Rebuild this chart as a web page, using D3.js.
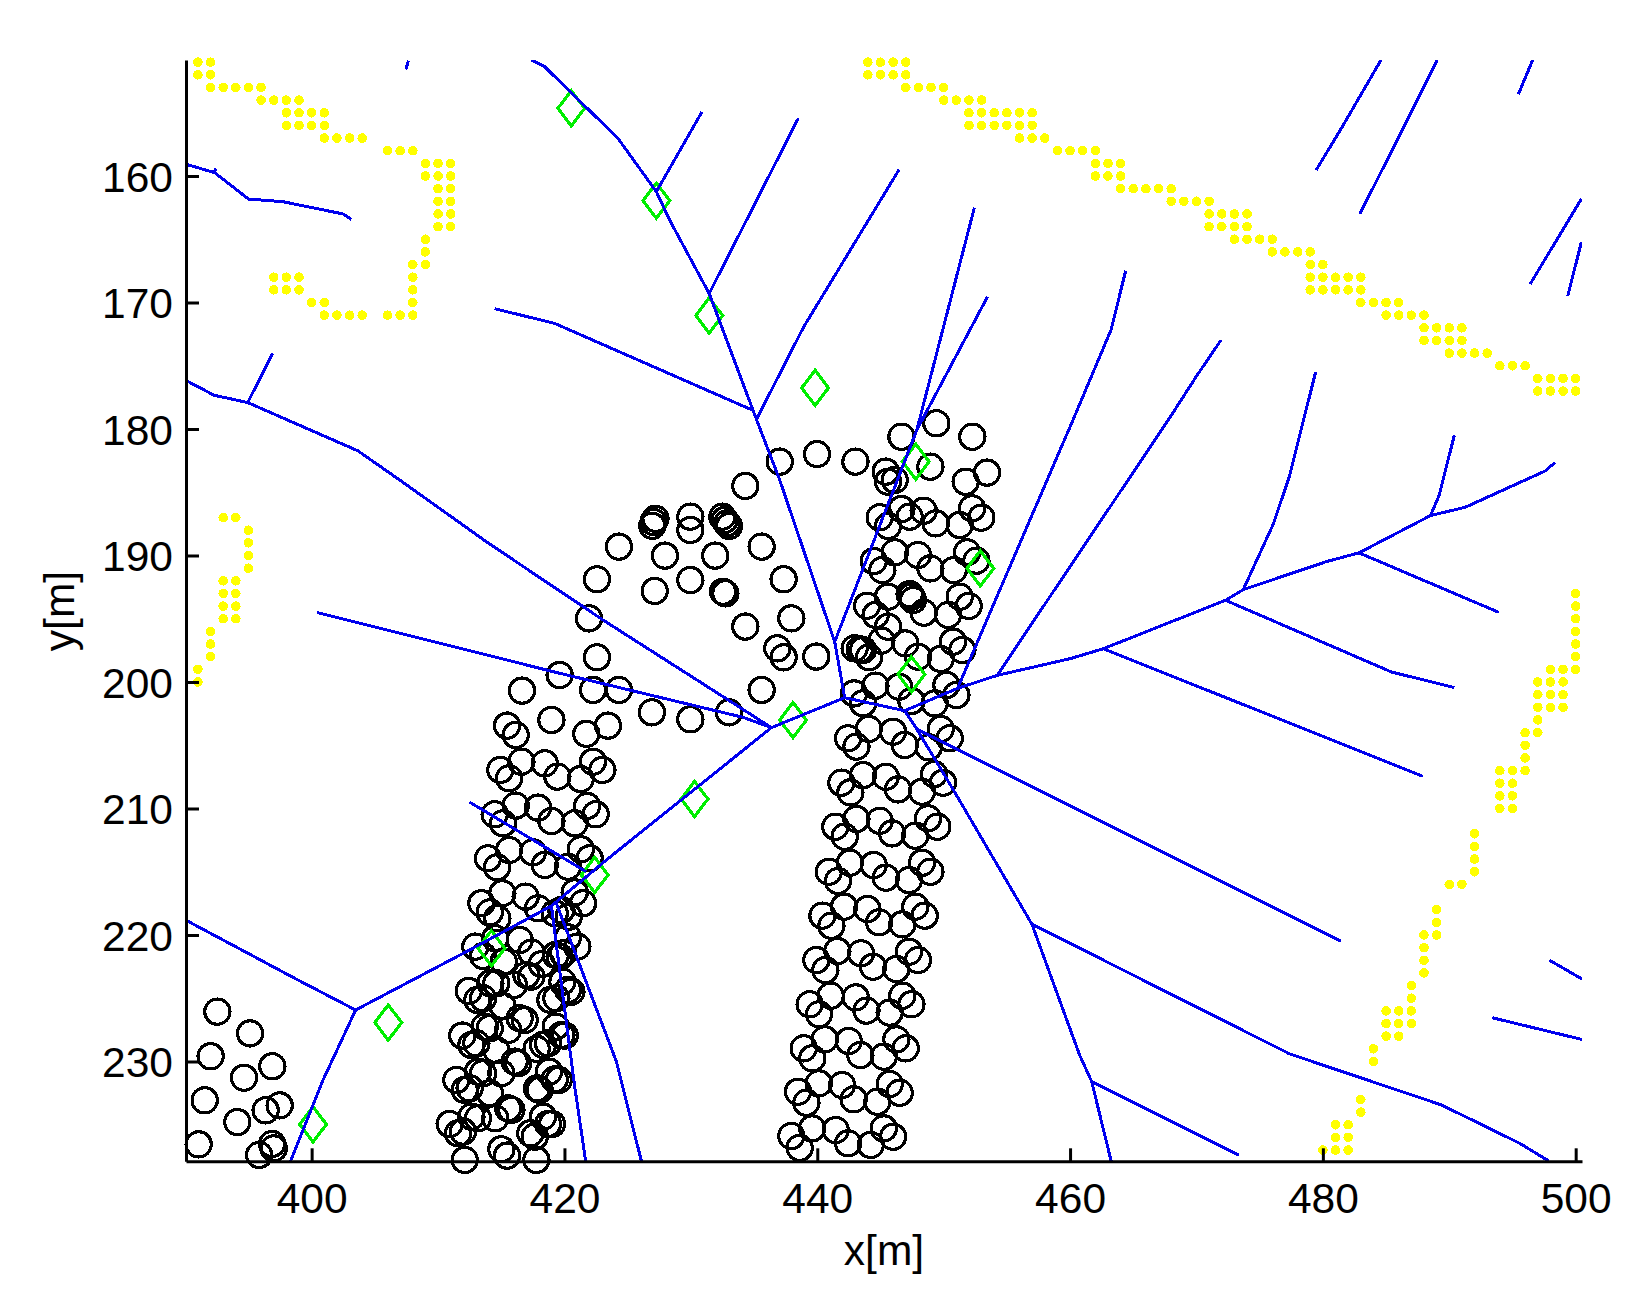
<!DOCTYPE html>
<html><head><meta charset="utf-8">
<script src="https://cdn.jsdelivr.net/npm/d3@7/dist/d3.min.js"></script>
<style>html,body{margin:0;padding:0;background:#fff}svg{display:block}</style>
</head><body><svg id="c" width="1644" height="1299"></svg>
<script>
const xTicks=[400,420,440,460,480,500];
const yTicks=[160,170,180,190,200,210,220,230];
// yellow cells: [y, x values]
const yellowRows=[
[151,[391,392,444,445,446,447]],[152,[391,392,444,445,446,447]],
[153,[392,393,394,395,396,447,448,449,450]],[154,[396,397,398,399,450,451,452,453]],
[155,[398,399,400,401,452,453,454,455,456,457]],[156,[398,399,400,401,452,453,454,455,456,457]],
[157,[401,402,403,404,456,457,458]],[158,[406,407,408,459,460,461,462]],
[159,[409,410,411,462,463,464]],[160,[409,410,411,462,463,464]],
[161,[410,411,464,465,466,467,468]],[162,[410,411,468,469,470,471]],
[163,[410,411,471,472,473,474]],[164,[410,411,471,472,473,474]],
[165,[409,473,474,475,476]],[166,[409,476,477,478,479]],
[167,[408,409,479,480]],[168,[397,398,399,408,479,480,481,482,483]],
[169,[397,398,399,408,479,480,481,482,483]],[170,[400,401,408,483,484,485,486]],
[171,[401,402,403,404,406,407,408,485,486,487,488]],[172,[488,489,490,491]],
[173,[488,489,490,491]],[174,[490,491,492,493]],[175,[494,495,496]],
[176,[497,498,499,500]],[177,[497,498,499,500]],
[187,[393,394]],[188,[395]],[189,[395]],[190,[395]],[191,[395]],
[192,[393,394]],[193,[393,394,500]],[194,[393,394,500]],[195,[393,394,500]],
[196,[392,500]],[197,[392,500]],[198,[392,500]],[199,[391,498,499,500]],
[200,[391,497,498,499]],[201,[497,498,499]],[202,[497,498,499]],[203,[497]],
[204,[496,497]],[205,[496]],[206,[496]],[207,[494,495,496]],[208,[494,495]],
[209,[494,495]],[210,[494,495]],[212,[492]],[213,[492]],[214,[492]],[215,[492]],
[216,[490,491]],[218,[489]],[219,[489]],[220,[488,489]],[221,[488]],[222,[488]],
[223,[488]],[224,[487]],[225,[487]],[226,[485,486,487]],[227,[485,486,487]],
[228,[485,486]],[229,[484]],[230,[484]],[233,[483]],[234,[483]],[235,[481,482]],
[236,[481,482]],[237,[480,481,482]]];

const circlesRight=[
[437.95,235.89],[438.61,236.82],[439.59,235.29],[441.46,235.42],[442.44,236.47],[444.23,236.60],[445.26,235.29],[446.00,235.95],
[438.48,232.39],[439.14,233.26],[440.12,231.73],[441.96,231.86],[442.88,232.99],[444.76,233.18],[445.73,231.78],[446.52,232.47],
[438.93,228.96],[439.61,229.75],[440.59,228.25],[442.49,228.38],[443.41,229.49],[445.26,229.62],[446.26,228.25],[447.00,228.96],
[439.40,225.48],[440.14,226.27],[441.06,224.80],[443.04,224.93],[443.89,225.98],[445.73,226.14],[446.73,224.80],[447.45,225.48],
[439.93,221.98],[440.64,222.77],[441.59,221.27],[443.46,221.45],[444.41,222.51],[446.26,222.69],[447.26,221.32],[447.97,221.98],
[440.41,218.47],[441.12,219.27],[442.12,217.76],[443.97,217.95],[444.89,219.00],[446.73,219.16],[447.76,217.76],[448.50,218.47],
[440.91,215.00],[441.64,215.73],[442.57,214.29],[444.47,214.47],[445.42,215.47],[447.26,215.66],[448.29,214.29],[448.95,215.00],
[441.43,211.44],[442.17,212.23],[443.10,210.83],[444.94,210.97],[445.92,211.97],[447.76,212.15],[448.76,210.78],[449.50,211.44],
[441.91,207.96],[442.62,208.73],[443.62,207.36],[445.42,207.49],[446.39,208.49],[448.29,208.67],[449.24,207.28],[449.95,207.96],
[442.44,204.45],[443.10,205.11],[444.07,203.71],[445.99,203.93],[446.92,204.98],[448.82,205.17],[449.77,203.71],[450.48,204.45],
[442.91,200.90],[443.62,201.69],[444.60,200.29],[446.47,200.37],[447.45,201.50],[449.29,201.69],[450.22,200.24],[451.01,201.03],
[442.96,197.34],[443.36,197.42],[443.62,197.47],[444.10,198.05],[445.07,196.73],[446.97,196.95],[447.97,198.00],[449.77,198.18],[450.74,196.81],[451.48,197.47],[445.60,195.63],
[443.94,193.97],[444.62,194.70],[445.60,193.26],[447.31,193.05],[447.45,193.26],[447.58,193.52],[448.42,194.52],[450.35,194.70],[451.27,193.26],[451.98,193.99],
[444.47,190.44],[445.15,191.15],[446.13,189.75],[447.97,189.96],[448.95,191.02],[450.80,191.15],[451.85,189.75],[452.59,190.41],
[444.94,186.98],[445.60,187.67],[446.66,186.33],[447.31,186.93],[448.42,186.46],[449.37,187.46],[451.27,187.59],[452.25,186.27],[452.98,187.01],
[445.42,183.37],[445.60,184.17],[446.13,184.03],[448.95,182.98],[451.74,184.17],[453.43,183.45],
[446.66,180.61],[449.42,179.55],[452.27,180.61]];
const circlesArch=[
[439.98,181.98],[437.03,182.58],[443.02,182.58],[434.31,184.50],
[427.20,187.10],[427.05,187.35],[426.95,187.65],[429.96,186.93],[429.96,187.98],[432.49,186.93],[432.67,187.19],[432.86,187.46],[433.02,187.67],
[424.31,189.30],[427.95,190.01],[431.93,190.01],[435.60,189.30],[422.57,191.88],[427.14,192.80],[429.96,191.94],[432.54,192.86],[432.73,192.99],[437.34,191.88],
[421.94,194.97],[434.31,195.62],[437.95,194.97],[436.84,197.34],[437.34,198.05],[439.92,197.99],[422.57,198.05],
[435.60,200.63],[422.26,200.63],[424.31,200.63],[419.62,199.45],[426.92,202.40],[429.96,202.95],[433.02,202.40],[421.73,204.10],[423.44,203.45]];
const circlesLeft=[
[416.64,200.68],[415.46,203.45],[416.14,204.19],[418.97,203.00],
[414.93,206.95],[415.62,207.61],[416.59,206.30],[418.44,206.43],[419.44,207.48],[421.29,207.67],[422.26,206.30],[423.00,206.95],
[414.48,210.46],[415.14,211.17],[416.14,209.77],[417.91,209.93],[418.97,210.99],[420.81,211.17],[421.79,209.80],[422.47,210.46],
[413.95,213.94],[414.67,214.65],[415.62,213.28],[417.51,213.46],[418.44,214.46],[420.28,214.60],[421.29,213.23],[421.99,213.94],
[413.43,217.49],[414.09,218.21],[414.69,218.68],[415.09,216.70],[416.93,216.97],[417.91,217.89],[419.76,218.02],[420.34,218.55],[420.81,216.63],[421.47,217.49],[419.23,218.28],
[412.95,220.92],[413.56,221.66],[414.53,220.26],[416.46,220.39],[417.38,221.39],[419.31,221.58],[419.62,221.71],[420.28,220.18],[421.02,220.92],[419.89,221.45],[415.20,222.10],[418.20,222.30],
[412.43,224.42],[413.11,225.13],[413.56,225.00],[414.14,223.82],[414.61,223.82],[416.01,223.95],[416.99,223.16],[417.38,223.29],[418.89,225.13],[419.36,225.00],[419.84,223.69],[420.55,224.48],[420.28,224.34],[415.10,225.60],
[411.92,227.95],[412.64,228.69],[413.03,228.56],[413.69,227.24],[414.09,227.37],[415.54,227.51],[416.46,226.58],[416.86,226.72],[418.31,228.69],[418.70,228.56],[419.31,227.24],[419.76,227.90],[420.02,227.95],[414.60,229.10],[417.80,229.00],
[411.45,231.46],[412.11,232.25],[412.50,232.12],[413.16,230.80],[413.56,230.93],[415.01,230.93],[416.06,230.01],[416.33,230.14],[417.83,232.12],[418.04,232.25],[418.78,230.80],[419.23,231.42],[419.55,231.46],[414.10,232.50],
[410.92,234.94],[411.58,235.68],[411.98,235.54],[412.64,234.36],[413.16,234.49],[414.53,234.49],[415.54,233.70],[415.80,233.83],[417.30,235.68],[417.65,235.94],[418.31,234.36],[418.70,234.94],[419.02,234.94],
[412.11,237.78],[415.01,236.94],[415.46,237.44],[417.78,237.78]];
const circlesCorner=[
[392.54,226.06],[395.13,227.78],[392.01,229.59],[396.89,230.38],[394.65,231.28],[391.54,233.07],[397.47,233.47],[396.36,233.86],[394.12,234.79],[391.06,236.55],[396.87,236.52],[397.00,236.87],[395.84,237.39]];
const diamonds=[
[420.54,154.65],[427.27,161.95],[431.45,171.03],[439.83,176.75],[447.79,182.58],[452.90,191.02],[447.45,199.40],[438.08,203.01],[430.29,209.25],[422.39,215.25],[414.22,221.05],[406.06,226.92],[400.11,234.97]];

const blueLines=[
// right trunk
[[442.17,201.24],[446.92,202.27],[451.10,200.50],[454.23,199.48],[460.06,198.14],[462.63,197.37],[472.30,193.54],[473.70,192.70],[480.29,190.48],[482.86,189.79],[488.52,186.84],[491.26,186.19],[497.60,183.31],[498.35,182.66]],
[[473.70,192.70],[476.07,187.53],[477.37,183.70],[478.47,179.29],[479.43,175.50]],
[[488.52,186.84],[489.20,185.23],[490.40,180.50]],
[[482.86,189.79],[493.93,194.50]],
[[472.30,193.54],[485.43,199.21],[490.40,200.44]],
[[462.63,197.37],[487.90,207.45]],
[[454.23,199.48],[467.77,179.29],[469.97,175.87],[471.95,172.96]],
[[451.10,200.50],[455.23,190.89],[460.23,179.29],[463.24,172.17],[464.40,167.49]],
// lower right
[[446.92,202.27],[447.89,203.75],[450.81,208.60],[456.98,219.14],[460.75,229.48],[461.71,231.59],[463.25,237.87]],
[[447.89,203.75],[481.42,220.48]],
[[456.98,219.14],[477.37,229.40],[489.37,233.43],[495.54,236.45],[497.88,237.87]],
[[461.71,231.59],[473.36,237.41]],
[[497.94,222.00],[500.50,223.48]],
[[493.40,226.54],[500.50,228.26]],
// top right fragments
[[484.60,150.83],[481.46,156.23],[479.47,159.53]],
[[489.06,150.83],[485.49,157.94],[482.92,163.00]],
[[496.60,150.83],[495.46,153.55]],
[[500.45,161.82],[496.40,168.54]],
[[500.45,165.24],[499.37,169.49]],
// centre upper
[[442.17,201.24],[441.38,196.82],[437.03,184.03],[435.19,179.24],[431.45,169.29],[428.32,163.48],[427.27,161.24],[424.23,157.02],[418.43,151.36],[417.38,150.83]],
[[441.38,196.82],[447.88,180.07],[452.43,162.50]],
[[447.88,180.07],[453.47,169.54]],
[[435.19,179.24],[438.92,171.94],[446.47,159.50]],
[[427.27,161.24],[430.87,154.94]],
[[431.45,169.29],[438.50,155.44]],
[[414.48,170.49],[419.22,171.65],[434.85,178.50]],
// left network
[[442.17,201.24],[436.37,203.61],[423.40,214.00],[418.97,217.70],[412.50,221.18],[403.48,225.93],[398.92,223.56],[390.00,218.80]],
[[403.48,225.93],[400.90,231.47],[398.32,237.89]],
[[412.50,209.50],[421.73,215.00]],
[[418.97,217.70],[420.02,225.92],[420.81,231.98],[421.68,237.89]],
[[419.36,217.50],[424.11,230.01],[426.09,237.89]],
[[390.00,176.13],[392.28,177.33],[394.94,177.91],[403.65,181.72],[407.22,184.21],[413.86,188.94],[423.05,195.10],[433.99,202.08],[436.37,203.61]],
[[400.41,194.50],[419.62,199.31],[434.12,202.79],[436.37,203.61]],
[[394.94,177.91],[396.93,174.01]],
[[390.00,159.05],[392.33,159.74],[395.00,161.82],[397.73,162.03],[402.48,163.00],[403.14,163.42]],
[[392.33,159.74],[392.38,159.40]],
[[407.65,150.88],[407.46,151.57]]];

const svg=d3.select('#c');
const x=d3.scaleLinear().domain([390.06,500.5]).range([186,1582]);
const y=d3.scaleLinear().domain([150.83,237.89]).range([60,1161.3]);
const FONT='"Liberation Sans",Arial,Helvetica,sans-serif';
const FS='42.5px';

svg.append('defs').append('clipPath').attr('id','p').append('rect')
  .attr('x',186).attr('y',60).attr('width',1396).attr('height',1101.3);

const marks=svg.append('g').attr('shape-rendering','crispEdges');
marks.append('g').selectAll('circle').data(yellowRows.flatMap(([r,xs])=>xs.map(v=>[v,r]))).join('circle')
  .attr('cx',d=>x(d[0])).attr('cy',d=>y(d[1])).attr('r',4.8).attr('fill','#ffff00');
marks.append('g').selectAll('circle').data([...circlesRight,...circlesArch,...circlesLeft,...circlesCorner]).join('circle')
  .attr('cx',d=>x(d[0])).attr('cy',d=>y(d[1])).attr('r',12.6)
  .attr('fill','none').attr('stroke','#000').attr('stroke-width',3.2);
const hw=13.4,hh=17.6;
marks.append('g').selectAll('path').data(diamonds).join('path')
  .attr('d',d=>{const a=x(d[0]),b=y(d[1]);return `M${a-hw},${b}L${a},${b-hh}L${a+hw},${b}L${a},${b+hh}Z`;})
  .attr('fill','none').attr('stroke','#00ee00').attr('stroke-width',3.2);
const line=d3.line().x(d=>x(d[0])).y(d=>y(d[1]));
marks.append('g').attr('clip-path','url(#p)').selectAll('path').data(blueLines).join('path')
  .attr('d',line).attr('fill','none').attr('stroke','#0000ee').attr('stroke-width',3).attr('stroke-linejoin','round');

const ax=svg.append('g').attr('transform','translate(0,1161.3)')
  .call(d3.axisBottom(x).tickValues(xTicks).tickSize(-13).tickSizeOuter(0).tickPadding(21.5).tickFormat(d3.format('d')));
const ay=svg.append('g').attr('transform','translate(186,0)')
  .call(d3.axisLeft(y).tickValues(yTicks).tickSize(-13).tickSizeOuter(0).tickPadding(13).tickFormat(d3.format('d')));
[ax,ay].forEach(g=>{
  g.select('.domain').attr('stroke','#000').attr('stroke-width',3);
  g.selectAll('.tick line').attr('stroke','#000').attr('stroke-width',3);
  g.selectAll('text').attr('fill','#000').style('font-family',FONT).style('font-size',FS);
});
ay.selectAll('text').attr('dy','0.36em');
svg.append('text').attr('x',884).attr('y',1265).attr('text-anchor','middle')
  .style('font-family',FONT).style('font-size',FS).text('x[m]');
svg.append('text').attr('transform','translate(74,611) rotate(-90)').attr('text-anchor','middle')
  .style('font-family',FONT).style('font-size',FS).text('y[m]');
</script></body></html>
